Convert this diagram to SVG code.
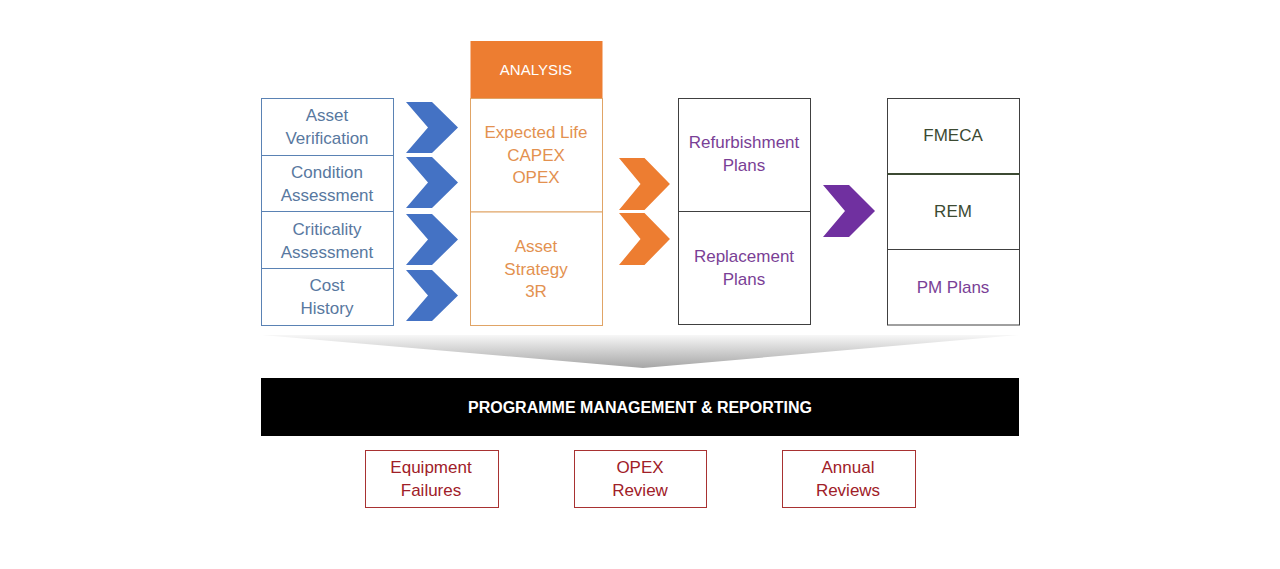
<svg xmlns="http://www.w3.org/2000/svg" width="1280" height="569" viewBox="0 0 1280 569">
  <style>
    text { font-family: "Liberation Sans", Arial, sans-serif; font-size: 17px; text-anchor: middle; }
    .blue { fill: #5878a0; }
    .orng { fill: #e39150; }
    .purp { fill: #7a3f96; }
    .green { fill: #3c4a32; }
    .red { fill: #a02028; }
    .boxb { fill: #ffffff; stroke: #5a82b4; stroke-width: 1; }
    .boxo { fill: #ffffff; stroke: #e0a466; stroke-width: 1; }
    .boxk { fill: #ffffff; stroke: #404040; stroke-width: 1; }
    .boxr { fill: #ffffff; stroke: #a83232; stroke-width: 1; }
  </style>
  <defs>
    <path id="chev" d="M0,0 H26 L52,26 L26,52 H0 L22,26 Z"/>
    <linearGradient id="wedge" x1="0" y1="0" x2="0" y2="1">
      <stop offset="0" stop-color="#f7f7f7"/>
      <stop offset="1" stop-color="#a6a6a6"/>
    </linearGradient>
  </defs>
  <rect width="1280" height="569" fill="#ffffff"/>

  <g id="inputs">
    <rect class="boxb" x="261.5" y="98.5" width="132" height="57"/>
    <rect class="boxb" x="261.5" y="155.5" width="132" height="56"/>
    <rect class="boxb" x="261.5" y="211.5" width="132" height="57"/>
    <rect class="boxb" x="261.5" y="268.5" width="132" height="57"/>
    <text class="blue" x="327" y="121">Asset</text>
    <text class="blue" x="327" y="144">Verification</text>
    <text class="blue" x="327" y="178">Condition</text>
    <text class="blue" x="327" y="201">Assessment</text>
    <text class="blue" x="327" y="235">Criticality</text>
    <text class="blue" x="327" y="258">Assessment</text>
    <text class="blue" x="327" y="291">Cost</text>
    <text class="blue" x="327" y="314">History</text>
  </g>

  <g id="analysis">
    <rect x="470.5" y="41" width="132" height="57.5" fill="#ed7d31"/>
    <text x="536" y="75" fill="#ffffff" style="font-size:15px">ANALYSIS</text>
    <rect class="boxo" x="470.5" y="98.5" width="132" height="113.5"/>
    <rect class="boxo" x="470.5" y="212" width="132" height="113.5"/>
    <text class="orng" x="536" y="138">Expected Life</text>
    <text class="orng" x="536" y="161">CAPEX</text>
    <text class="orng" x="536" y="183">OPEX</text>
    <text class="orng" x="536" y="252">Asset</text>
    <text class="orng" x="536" y="275">Strategy</text>
    <text class="orng" x="536" y="297">3R</text>
  </g>

  <g id="plans">
    <rect class="boxk" x="678.5" y="98.5" width="132" height="113"/>
    <rect class="boxk" x="678.5" y="211.5" width="132" height="113"/>
    <text class="purp" x="744" y="148">Refurbishment</text>
    <text class="purp" x="744" y="171">Plans</text>
    <text class="purp" x="744" y="262">Replacement</text>
    <text class="purp" x="744" y="285">Plans</text>
  </g>

  <g id="outputs">
    <rect class="boxk" x="887.5" y="98.5" width="132" height="75"/>
    <rect class="boxk" x="887.5" y="174" width="132" height="75.5"/>
    <rect class="boxk" x="887.5" y="249.5" width="132" height="75.5"/>
    <line x1="887.5" y1="174" x2="1019.5" y2="174" stroke="#3c4a32" stroke-width="2"/>
    <text class="green" x="953" y="141">FMECA</text>
    <text class="green" x="953" y="217">REM</text>
    <text class="purp" x="953" y="293">PM Plans</text>
  </g>

  <g id="connectors">
    <use href="#chev" transform="translate(406,102) scale(1,0.98)" fill="#4472c4"/>
    <use href="#chev" transform="translate(406,157) scale(1,0.98)" fill="#4472c4"/>
    <use href="#chev" transform="translate(406,214) scale(1,0.98)" fill="#4472c4"/>
    <use href="#chev" transform="translate(406,270) scale(1,0.98)" fill="#4472c4"/>
    <use href="#chev" transform="translate(619,158) scale(0.98,1)" fill="#ed7d31"/>
    <use href="#chev" transform="translate(619,213) scale(0.98,1)" fill="#ed7d31"/>
    <use href="#chev" transform="translate(823,185)" fill="#7030a0"/>
    <polygon points="262,335 1019,335 643,368" fill="url(#wedge)"/>
  </g>

  <g id="programme">
    <rect x="261" y="378" width="758" height="58" fill="#000000"/>
    <text x="640" y="413" fill="#ffffff" style="font-size:16px;font-weight:bold">PROGRAMME MANAGEMENT &amp; REPORTING</text>
  </g>

  <g id="reviews">
    <rect class="boxr" x="365.5" y="450.5" width="133" height="57"/>
    <text class="red" x="431" y="473">Equipment</text>
    <text class="red" x="431" y="496">Failures</text>
    <rect class="boxr" x="574.5" y="450.5" width="132" height="57"/>
    <text class="red" x="640" y="473">OPEX</text>
    <text class="red" x="640" y="496">Review</text>
    <rect class="boxr" x="782.5" y="450.5" width="133" height="57"/>
    <text class="red" x="848" y="473">Annual</text>
    <text class="red" x="848" y="496">Reviews</text>
  </g>
</svg>
